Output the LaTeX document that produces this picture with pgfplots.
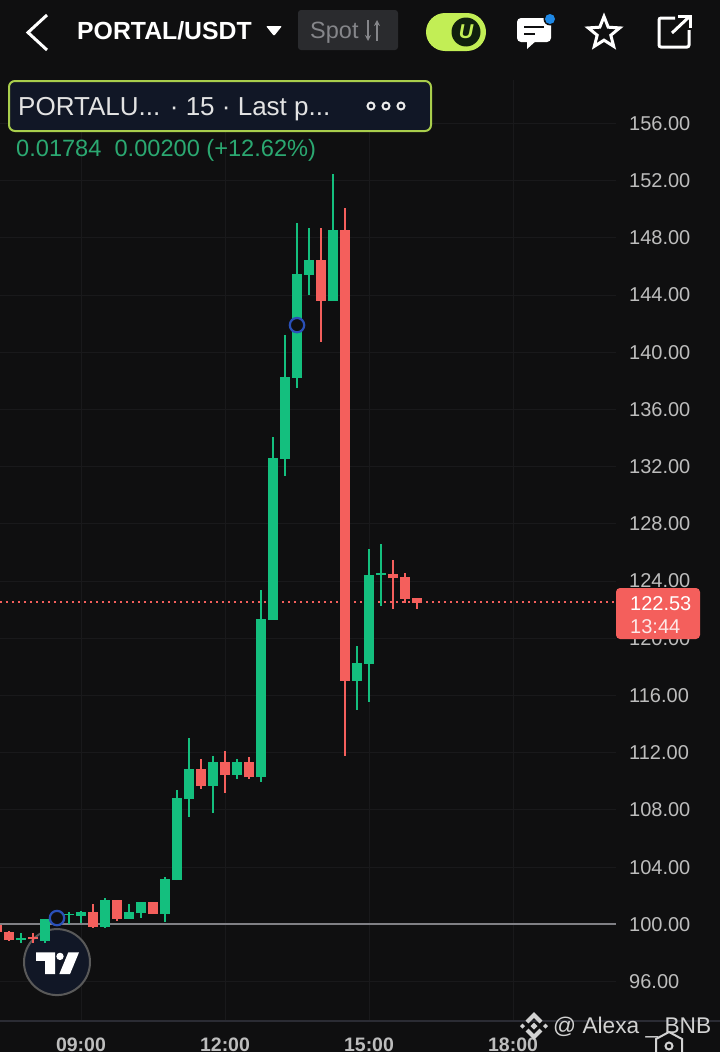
\documentclass[border=0pt]{standalone}
\usepackage{fontspec}
\setmainfont{Liberation Sans}
\usepackage{pgfplots}
\usepackage{pgfplotstable}
\pgfplotsset{compat=1.18}
\usetikzlibrary{shapes.geometric,arrows.meta}
\definecolor{bgc}{HTML}{0F0F10}
\definecolor{gridc}{HTML}{19191B}
\definecolor{upc}{HTML}{14BF7E}
\definecolor{downc}{HTML}{F45F5C}
\definecolor{tickc}{HTML}{BDBDBD}
\definecolor{lime}{HTML}{C2EE55}
\definecolor{valc}{HTML}{2BA871}
\definecolor{bluec}{HTML}{2A50B8}
\definecolor{rulec}{HTML}{2B2C34}
\definecolor{basec}{HTML}{808085}
\definecolor{spotbg}{HTML}{2A2B2E}
\definecolor{spotfg}{HTML}{85868A}
\definecolor{navy}{HTML}{111726}
\definecolor{dotc}{HTML}{1E88E5}
\definecolor{uc}{HTML}{10200E}
\definecolor{wmc}{HTML}{D2D2D2}
\newcommand{\fs}[1]{\fontsize{#1}{#1}\selectfont}
% candles, x = number of 15 min bars after 09:00
\pgfplotstableread{
x o h l c
-5 98.90 99.37 98.72 99.05
-3 98.83 100.40 98.72 100.37
-2 100.40 100.60 100.30 100.55
-1 100.63 100.84 100.02 100.72
0 100.58 100.95 100.07 100.86
2 99.83 101.84 99.80 101.70
4 100.37 101.42 100.37 100.86
5 100.79 101.56 100.44 101.56
7 100.72 103.31 100.16 103.17
8 103.10 109.39 103.10 108.83
9 108.76 113.03 107.48 110.84
11 109.67 111.77 107.76 111.35
13 110.46 111.56 110.16 111.35
15 110.28 123.38 109.95 121.35
16 121.30 134.10 121.30 132.60
17 132.54 141.20 131.35 138.25
18 138.22 149.06 137.50 145.47
19 145.40 148.69 144.00 146.45
21 143.59 152.50 143.59 148.55
23 117.04 119.46 114.99 118.27
24 118.23 126.25 115.55 124.42
25 124.45 126.60 122.28 124.55
}\upbars
\pgfplotstableread{
x o h l c
-7 99.95 100.00 99.45 99.49
-6 99.47 99.53 98.85 98.90
-4 99.13 99.37 98.72 98.95
1 100.86 101.42 99.76 99.81
3 101.68 101.70 100.23 100.37
6 101.56 101.56 100.74 100.74
10 110.84 111.56 109.46 109.67
12 111.35 112.09 109.21 110.46
14 111.35 111.72 110.16 110.28
20 146.45 148.69 140.72 143.59
22 148.55 150.07 111.77 117.04
26 124.50 125.48 122.07 124.20
27 124.27 124.54 122.47 122.75
28 122.80 122.85 122.07 122.49
}\downbars
\pgfplotsset{
  wick/.style={draw=none,mark=none,forget plot,error bars/.cd,y dir=both,y explicit,
    error mark=none,error bar style={#1,line width=2.4pt}},
  body/.style={draw=none,mark=none,forget plot,error bars/.cd,y dir=plus,y explicit,
    error mark=none,error bar style={#1,line width=10pt}},
}
\begin{document}
\begin{tikzpicture}
\path[use as bounding box,fill=bgc] (0pt,0pt) rectangle (720pt,-1052pt);
\clip (0pt,0pt) rectangle (720pt,-1052pt);
\begin{axis}[
  at={(0pt,-1021pt)},anchor=south west,
  scale only axis,width=616pt,height=941pt,
  xmin=-6.75,xmax=44.583,ymin=93.24,ymax=159.04,
  axis line style={draw=none},
  major tick length=0pt,
  grid=major,grid style={gridc,line width=1pt},
  xtick={0,12,24,36},xticklabels={09:00,12:00,15:00,18:00},
  ytick={96,100,...,156},
  yticklabel pos=right,
  tick label style={inner sep=0pt},
  /pgf/number format/assume math mode=true,
  yticklabel style={anchor=west,xshift=13pt,text=tickc,font=\fs{20},
    /pgf/number format/.cd,fixed,fixed zerofill,precision=2},
  xticklabel style={anchor=base,yshift=-30pt,text=tickc,font=\fs{19.5}\bfseries},
]
\addplot[forget plot,color=basec,line width=1.8pt] coordinates {(-6.75,100) (44.583,100)};
\addplot[forget plot,color=downc,line width=1.3pt,dash pattern=on 1.6pt off 4.4pt] coordinates {(-6.75,122.53) (44.583,122.53)};
% tradingview badge sits under the candles
\begin{scope}[shift={(axis cs:-2,97.36)},x=1pt,y=-1pt]
\draw[fill=navy,draw=black!65!white,line width=2pt] (0,0) circle[radius=33pt];
\fill[white] (-21,-9.7) -- (-2,-9.7) -- (-2,12) -- (-12,12) -- (-12,-1.3) -- (-21,-1.3) -- cycle;
\fill[white] (3,-5.7) circle[radius=3.7pt];
\fill[white] (11.3,-9.7) -- (22,-9.7) -- (13,12) -- (2.3,12) -- cycle;
\end{scope}
\addplot[wick=upc] table[x=x,y=o,y error plus expr=\thisrow{h}-\thisrow{o},y error minus expr=\thisrow{o}-\thisrow{l}] {\upbars};
\addplot[wick=downc] table[x=x,y=o,y error plus expr=\thisrow{h}-\thisrow{o},y error minus expr=\thisrow{o}-\thisrow{l}] {\downbars};
\addplot[body=upc] table[x=x,y=o,y error plus expr=\thisrow{c}-\thisrow{o}] {\upbars};
\addplot[body=downc] table[x=x,y=c,y error plus expr=\thisrow{o}-\thisrow{c}] {\downbars};
\addplot[only marks,mark=*,mark size=7.2pt,mark options={fill=bgc,draw=bluec,line width=2.2pt}] coordinates {(-2,100.44) (18,141.9)};
\end{axis}
\begin{scope}[x=1pt,y=-1pt]
% bottom rule
\draw[rulec,line width=1.5pt] (0,1021) -- (720,1021);
% price tag
\fill[downc,rounded corners=4pt] (616,588) rectangle (700,639);
\node[anchor=base west,inner sep=0pt,text=white] at (630,610) {\fs{20}122.53};
\node[anchor=base west,inner sep=0pt,text=white!85!downc] at (630,633) {\fs{20}13:44};
% header
\draw[white,line width=3pt] (47,15) -- (28,32.5) -- (47,50);
\node[anchor=base west,inner sep=0pt,text=white] at (77,39) {\fs{24.8}\bfseries PORTAL/USDT};
\fill[white,rounded corners=1pt] (266,26) -- (282,26) -- (274,36) -- cycle;
\fill[spotbg,rounded corners=3pt] (298,10) rectangle (398,50);
\node[anchor=base west,inner sep=0pt,text=spotfg] at (310,38) {\fs{23.5}Spot};
\draw[spotfg,line width=1.5pt,-{Stealth[length=6pt,width=6pt]}] (368,20) -- (368,41);
\draw[spotfg,line width=1.5pt,-{Stealth[length=6pt,width=6pt]}] (377,41) -- (377,20);
\fill[lime,rounded corners=19pt] (426,13) rectangle (486,51);
\fill[uc] (466,32) circle[radius=14.5];
\node[text=lime] at (466,32) {\fs{20}\bfseries\itshape U};
% chat
\fill[white,rounded corners=4pt] (517,18) rectangle (551,42);
\fill[white] (527,40) -- (527,49) -- (537,40) -- cycle;
\draw[bgc,line width=2.5pt] (524,27) -- (544,27);
\draw[bgc,line width=2.5pt] (524,34) -- (535,34);
\fill[bgc] (550,19) circle[radius=6.5];
\fill[dotc] (550,19) circle[radius=5];
% star
\node[star,star points=5,star point ratio=2.3,draw=white,line width=3pt,inner sep=0pt,minimum size=33pt] at (604,33) {};
% share
\draw[white,line width=3pt,rounded corners=2pt] (675,18) -- (659,18) -- (659,47) -- (689,47) -- (689,30);
\draw[white,line width=3pt] (672,33) -- (689,17);
\draw[white,line width=3pt] (678,16.5) -- (690,16.5) -- (690,28);
% study box
\draw[fill=navy,draw=lime!85!gridc,line width=2pt,rounded corners=6pt] (9,81) rectangle (431,131);
\node[anchor=base west,inner sep=0pt,text=white!78!gray] at (18,115) {\fs{26}PORTALU...  · 15 · Last p...};
\foreach \cx in {371,386,401}{\draw[white!85!gray,line width=2pt] (\cx,106) circle[radius=3.5];}
\node[anchor=base west,inner sep=0pt,text=valc] at (16,156) {\fs{23.6}0.01784\ \ 0.00200 (+12.62\%)};
% watermark
\node[anchor=base west,inner sep=0pt,text=wmc] at (553,1033) {\fs{22.7}@ Alexa \char`\_\ BNB};
\draw[wmc,line width=4pt] (527,1022) -- (534,1015) -- (541,1022);
\draw[wmc,line width=4pt] (527,1030) -- (534,1037) -- (541,1030);
\fill[wmc] (522.5,1023.5) -- (525,1026) -- (522.5,1028.5) -- (520,1026) -- cycle;
\fill[wmc] (545.5,1023.5) -- (548,1026) -- (545.5,1028.5) -- (543,1026) -- cycle;
\fill[wmc] (534,1022.5) -- (537.5,1026) -- (534,1029.5) -- (530.5,1026) -- cycle;
\draw[wmc,line width=2pt] (669,1032) -- (682,1039) -- (682,1053) -- (669,1060) -- (656,1053) -- (656,1039) -- cycle;
\draw[wmc,line width=2pt] (669,1046) circle[radius=3.5];
\end{scope}
\end{tikzpicture}
\end{document}
